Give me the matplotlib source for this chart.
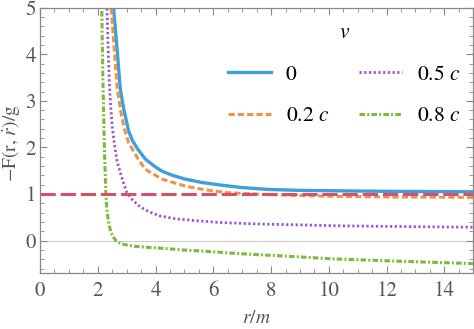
import numpy as np
import matplotlib.pyplot as plt
from matplotlib.ticker import MultipleLocator

plt.rcParams["font.family"] = ["STIXGeneral", "DejaVu Serif"]
plt.rcParams["mathtext.fontset"] = "stix"
plt.rcParams["lines.scale_dashes"] = False

r_v0 = [2.52, 2.55, 2.67, 2.78, 2.90, 3.07, 3.2, 3.4, 3.65, 4.0, 4.23, 4.6,
        5.04, 5.6, 6.3, 7.0, 7.9, 9.0, 10.4, 12.0, 13.5, 15.0]
f_v0 = [5.6, 4.96, 4.1, 3.25, 2.82, 2.35, 2.15, 1.95, 1.75, 1.58, 1.49, 1.40,
        1.32, 1.25, 1.19, 1.14, 1.10, 1.08, 1.07, 1.06, 1.055, 1.05]

r_v02 = [2.45, 2.47, 2.57, 2.67, 2.78, 2.92, 3.07, 3.4, 3.65, 4.23, 5.04, 5.74,
         6.5, 7.9, 9.0, 10.4, 12.0, 15.0]
f_v02 = [5.6, 4.96, 4.1, 3.3, 2.82, 2.40, 2.10, 1.75, 1.53, 1.32, 1.17, 1.09,
         1.03, 0.99, 0.97, 0.95, 0.94, 0.93]

r_v05 = [2.30, 2.32, 2.36, 2.40, 2.44, 2.50, 2.58, 2.67, 2.78, 2.90, 3.01, 3.2,
         3.4, 3.62, 3.9, 4.17, 4.7, 5.4, 6.26, 7.5, 9.0, 10.4, 12.5, 15.0]
f_v05 = [5.6, 4.96, 4.1, 3.4, 2.95, 2.45, 2.05, 1.70, 1.46, 1.22, 1.03, 0.88,
         0.76, 0.67, 0.59, 0.53, 0.47, 0.43, 0.39, 0.36, 0.34, 0.32, 0.305, 0.29]

r_v08 = [2.12, 2.14, 2.17, 2.20, 2.23, 2.26, 2.28, 2.31, 2.35, 2.40, 2.46, 2.54,
         2.63, 2.78, 3.0, 3.3, 3.7, 4.2, 5.0, 5.6, 6.3, 7.0, 8.5, 10.2, 12.5, 15.0]
f_v08 = [5.6, 4.96, 3.7, 2.8, 2.0, 1.4, 1.0, 0.72, 0.5, 0.32, 0.18, 0.08,
         0.0, -0.06, -0.09, -0.12, -0.14, -0.16, -0.20, -0.22, -0.25, -0.28, -0.33,
         -0.39, -0.44, -0.49]

newton_level = 1.0
labels = ["0", "0.2 $c$", "0.5 $c$", "0.8 $c$"]

fig = plt.figure(figsize=(4.74, 3.29), dpi=100)
ax = fig.add_axes([0.0844, 0.169, 0.914, 0.808])

gray = "#888888"
ax.axhline(0, color="#cccccc", lw=0.8, zorder=0)

ax.plot(r_v0, f_v0, color="#3d9fdc", lw=2.4, label=labels[0])
ax.plot(r_v02, f_v02, color="#ee934a", lw=2.2, dashes=(4.5, 2.2), label=labels[1])
ax.plot(r_v05, f_v05, color="#9a55d2", lw=2.0, dashes=(1.6, 1.8), label=labels[2])
ax.plot(r_v08, f_v08, color="#7fb83a", lw=2.2, dashes=(4.0, 1.6, 1.4, 1.6), label=labels[3])
ax.axhline(newton_level, color="#d6506a", lw=2.2, dashes=(11, 3.5), zorder=3)

ax.set_xlim(0, 15)
ax.set_ylim(-0.7, 5)
ax.xaxis.set_major_locator(MultipleLocator(2))
ax.xaxis.set_minor_locator(MultipleLocator(0.5))
ax.yaxis.set_major_locator(MultipleLocator(1))
ax.yaxis.set_minor_locator(MultipleLocator(0.2))

for s in ax.spines.values():
    s.set_color(gray)
    s.set_linewidth(0.9)
ax.tick_params(which="both", direction="in", top=True, right=True, color=gray,
               labelcolor="#555555", labelsize=15)
ax.tick_params(which="major", length=5, width=0.8)
ax.tick_params(which="minor", length=2.8, width=0.6)
ax.tick_params(axis="x", pad=6)
ax.tick_params(axis="y", pad=3)

ax.set_xlabel("$r/m$", fontsize=14, color="#555555", labelpad=6)
ax.text(-0.066, 0.49, "−F(r, $\\dot{r}$)/g", transform=ax.transAxes, rotation=90,
        ha="center", va="center", fontsize=14, color="#555555")

leg = ax.legend(ncol=2, title="$v$", frameon=False, fontsize=15.5, title_fontsize=15.5,
                loc="upper left", bbox_to_anchor=(0.403, 0.99),
                handlelength=2.0, handletextpad=0.7, columnspacing=1.4,
                labelspacing=1.0, borderaxespad=0.2)

fig.savefig("out.png", dpi=100)
